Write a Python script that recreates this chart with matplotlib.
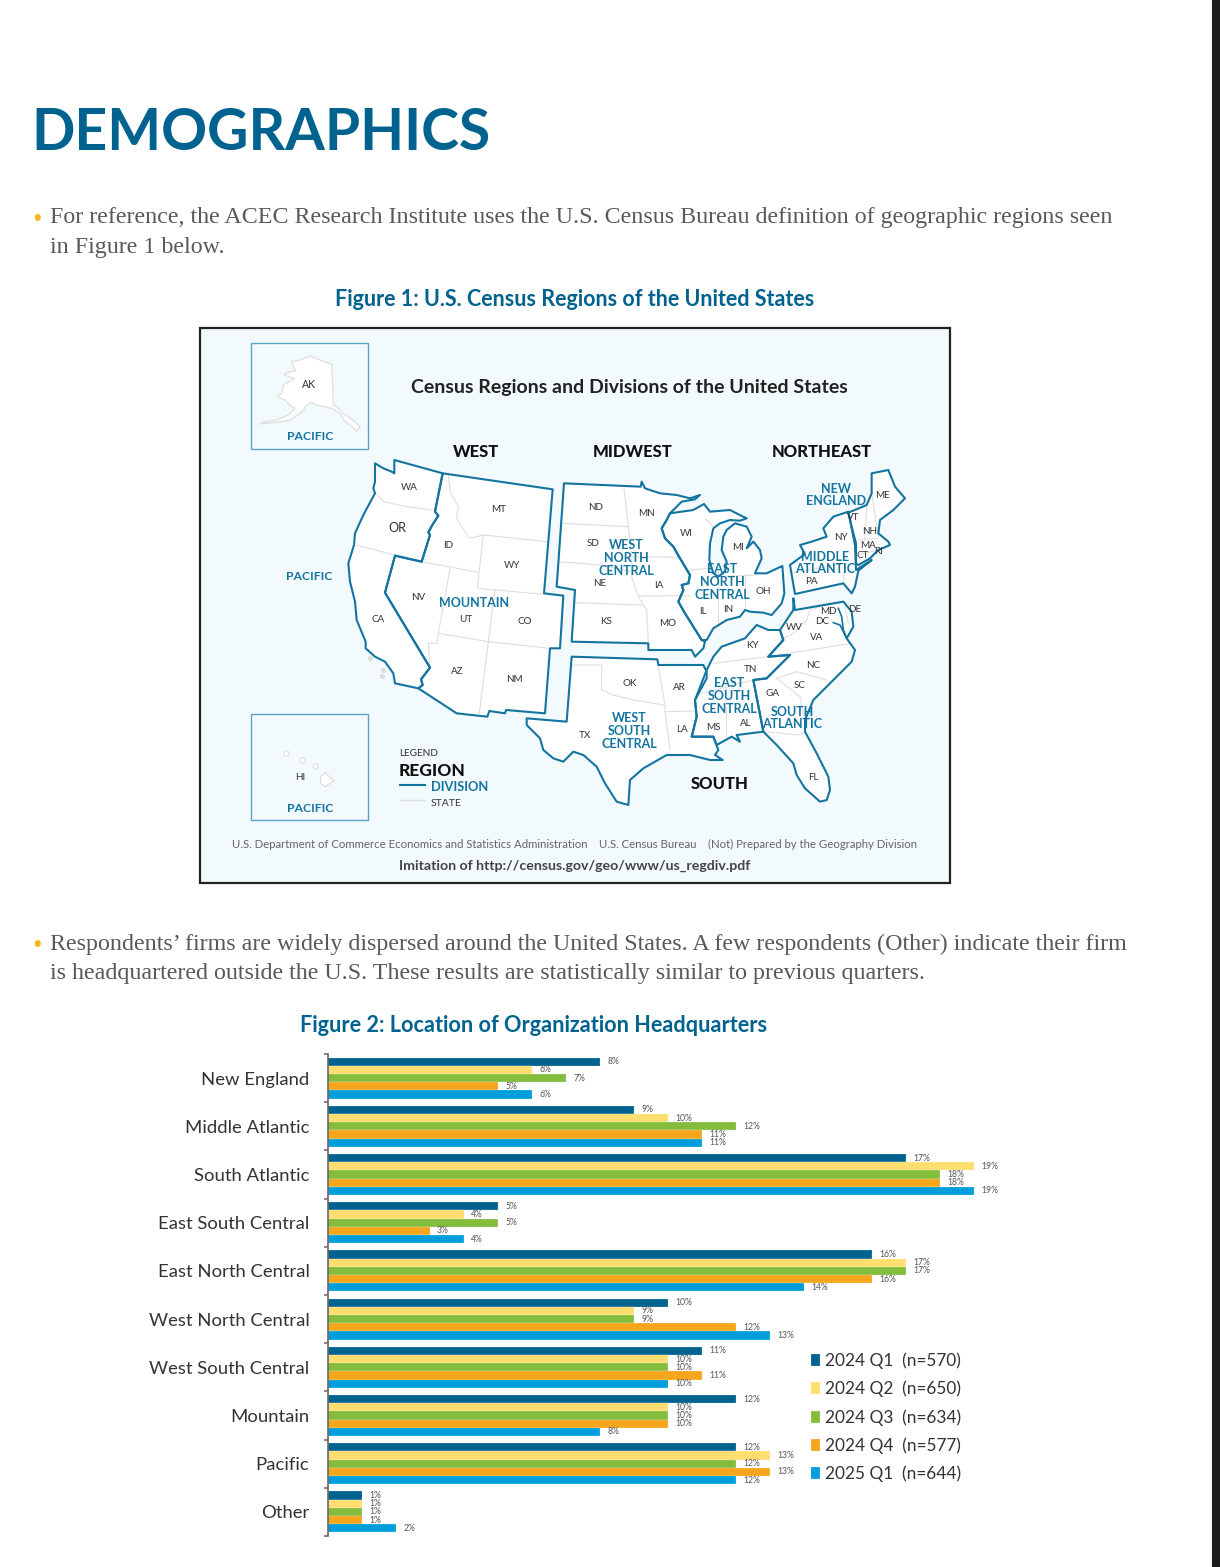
import matplotlib
matplotlib.use('Agg')
import matplotlib.pyplot as plt
from matplotlib.patches import Polygon, Rectangle
import numpy as np

# Chart data (Figure 2)
regions = ['New England', 'Middle Atlantic', 'South Atlantic', 'East South Central',
           'East North Central', 'West North Central', 'West South Central',
           'Mountain', 'Pacific', 'Other']
q1_2024 = [8, 9, 17, 5, 16, 10, 11, 12, 12, 1]
q2_2024 = [6, 10, 19, 4, 17, 9, 10, 10, 13, 1]
q3_2024 = [7, 12, 18, 5, 17, 9, 10, 10, 12, 1]
q4_2024 = [5, 11, 18, 3, 16, 12, 11, 10, 13, 1]
q1_2025 = [6, 11, 19, 4, 14, 13, 10, 8, 12, 2]
series_names = ['2024 Q1  (n=570)', '2024 Q2  (n=650)', '2024 Q3  (n=634)',
                '2024 Q4  (n=577)', '2025 Q1  (n=644)']
series_colors = ['#00628f', '#ffdd6e', '#84bd3c', '#f5a61c', '#009fdb']

BLUE = '#00628f'
DIV = '#1474a0'
STATE = '#dedede'

# Map outlines, traced in crop coordinates (3x zoom of the picture)
A = (200, 325)   # west part
B = (550, 430)   # east part

def crop(base, pts):
    return [(base[0] + x / 3, base[1] + y / 3) for x, y in pts]

pacific = crop(A, [(583,405),(728,445),(705,560),(715,572),(697,600),(685,622),(690,630),(665,710),
                   (585,692),(555,803),(690,1028),(663,1063),(668,1080),(655,1090),(585,1075),(580,1045),
                   (555,1010),(525,995),(497,970),(497,950),(470,885),(465,830),(450,770),(445,715),
                   (462,660),(465,625),(490,570),(525,505),(520,490),(525,470),(525,415),(550,430),
                   (575,440),(583,445)])
mountain = crop(A, [(585,692),(665,710),(690,630),(685,622),(697,600),(715,572),(705,560),(728,445),
                    (1058,493),(1032,805),(1090,812),(1080,970),(1050,970),(1035,1165),(918,1155),
                    (915,1165),(868,1158),(862,1175),(770,1165),(655,1090),(668,1080),(663,1063),
                    (690,1028),(555,803)])
west_north = crop(B, [(42,160),(272,170),(275,155),(285,175),(330,190),(380,195),(420,205),(450,195),
                      (435,208),(395,215),(360,250),(350,270),(335,295),(345,325),(370,350),(390,385),
                      (420,435),(415,460),(395,465),(400,480),(385,515),(405,550),(430,590),(455,630),
                      (465,635),(460,655),(435,680),(425,660),(295,660),(295,640),(65,635),(75,480),(20,470)])
east_north = crop(B, [(360,250),(395,245),(430,240),(462,222),(480,245),(540,240),(575,258),(590,265),
                      (570,272),(540,270),(510,280),(490,295),(480,340),(478,390),(490,430),(505,440),
                      (525,425),(530,395),(515,360),(520,320),(530,300),(555,280),(590,290),(605,320),
                      (590,355),(610,335),(630,360),(635,385),(615,430),(650,430),(697,408),(703,490),
                      (695,520),(665,555),(640,548),(600,545),(585,540),(570,560),(530,570),(490,595),
                      (470,630),(455,630),(430,590),(405,550),(385,515),(400,480),(395,465),(415,460),
                      (420,435),(390,385),(370,350),(345,325),(335,295),(350,270)])
middle_atl = crop(B, [(895,245),(915,345),(918,420),(965,390),(925,422),(915,470),(905,490),(880,460),
                      (735,492),(720,405),(765,372),(750,345),(785,335),(830,320),(820,295),(850,260)])
new_england = crop(B, [(895,248),(950,225),(965,190),(965,130),(1015,120),(1035,170),(1065,205),(1030,240),
                       (990,270),(985,310),(1015,335),(1020,345),(985,360),(960,385),(925,405),(918,400),
                       (918,340),(905,290)])
south_atl = crop(B, [(730,505),(735,540),(880,515),(905,545),(910,590),(890,625),(915,660),(905,695),
                     (880,720),(855,745),(830,770),(790,810),(765,870),(765,905),(800,970),(835,1040),
                     (840,1080),(830,1110),(810,1115),(765,1075),(740,1035),(730,1000),(680,945),(640,905),
                     (610,750),(650,745),(720,675),(655,680),(700,630),(690,600),(730,540)])
east_south = crop(B, [(610,750),(640,905),(560,915),(570,935),(545,920),(500,945),(490,920),(425,920),
                      (440,860),(435,810),(470,720),(490,680),(515,650),(585,625),(620,585),(655,600),
                      (690,600),(700,630),(655,680),(720,675),(650,745)])
west_south = crop(B, [(65,680),(322,688),(325,705),(460,705),(470,725),(470,745),(435,810),(440,860),
                      (425,920),(490,920),(505,960),(495,975),(518,990),(480,990),(420,975),(350,975),
                      (280,1015),(240,1050),(235,1125),(200,1115),(165,1060),(140,1010),(100,975),(70,965),
                      (40,995),(10,985),(-20,960),(-30,925),(-70,885),(-70,865),(50,875)])
divisions = [pacific, mountain, west_north, east_north, middle_atl, new_england, south_atl, east_south, west_south]
chesapeake = crop(B, [(865,535),(875,560),(880,600),(890,625),(870,585),(850,578)])

state_lines = [
    crop(A, [(530,505),(550,530),(620,545),(700,555)]),
    crop(A, [(470,660),(590,692)]),
    crop(A, [(745,450),(750,500),(775,545),(770,580),(795,620),(810,640),(850,630)]),
    crop(A, [(850,630),(1042,650)]),
    crop(A, [(850,630),(832,790),(1032,808)]),
    crop(A, [(665,710),(835,742)]),
    crop(A, [(750,730),(715,925),(710,955),(685,955),(690,1028)]),
    crop(A, [(715,925),(865,950),(1050,970)]),
    crop(A, [(885,795),(865,950),(838,1165)]),
    crop(B, [(35,280),(235,290)]),
    crop(B, [(222,175),(235,290),(245,380),(245,440),(265,500),(290,540),(295,640)]),
    crop(B, [(25,395),(150,405),(245,425)]),
    crop(B, [(245,380),(385,382)]),
    crop(B, [(75,518),(275,525)]),
    crop(B, [(265,498),(420,497)]),
    crop(B, [(420,420),(480,415)]),
    crop(B, [(465,265),(490,290)]),
    crop(B, [(505,425),(505,585)]),
    crop(B, [(585,435),(585,540)]),
    crop(B, [(510,440),(615,435)]),
    crop(B, [(65,705),(155,705),(155,780),(190,795),(250,810),(340,825)]),
    crop(B, [(325,705),(345,825),(345,845),(440,843)]),
    crop(B, [(345,845),(360,960)]),
    crop(B, [(490,700),(655,680)]),
    crop(B, [(455,790),(610,750)]),
    crop(B, [(528,775),(530,925)]),
    crop(B, [(640,905),(750,915),(765,905)]),
    crop(B, [(680,745),(750,800),(765,870)]),
    crop(B, [(680,745),(740,725),(830,750)]),
    crop(B, [(655,680),(905,640)]),
    crop(B, [(690,630),(730,610),(770,570),(780,540),(840,520)]),
    crop(B, [(885,530),(895,580)]),
    crop(B, [(730,428),(885,400),(880,460)]),
    crop(B, [(950,225),(945,330)]),
    crop(B, [(925,330),(985,325)]),
    crop(B, [(965,190),(985,320)]),
    crop(B, [(925,375),(985,360)]),
]
alaska = crop(A, [(275,110),(300,105),(330,93),(360,105),(395,118),(398,180),(400,240),(415,248),(425,262),
                  (445,275),(465,290),(480,305),(470,318),(450,300),(435,290),(420,265),(395,250),(350,240),
                  (335,232),(320,240),(310,255),(295,268),(270,285),(245,290),(215,293),(180,297),(195,290),
                  (230,285),(265,270),(285,250),(270,240),(255,225),(230,215),(245,205),(250,180),(268,170),
                  (285,160),(265,155),(252,148),(270,140),(288,138),(280,125)])
hawaii = crop((200, 620), [(362,470),(375,458),(402,482),(375,500),(362,490)])
hawaii_small = crop((200, 620), [(258,400),(305,420),(345,437)])
ca_islands = crop((200, 620), [(510,115),(550,150),(545,168)])

state_labels = [('AK',309,383,8.5),('WA',409,486,8),('OR',397,527,10),('MT',499,509,8),('ID',448,544,8),
                ('WY',512,564,8),('NV',418,597,8),('UT',466,619,8),('CO',525,620,8),('CA',378,618,8),
                ('AZ',457,670,8),('NM',514,678,8),('TX',585,735,8),('ND',596,506,8),('MN',646,512,8),
                ('SD',593,543,8),('NE',600,583,8),('IA',659,585,8),('KS',606,621,8),('MO',668,623,8),
                ('WI',686,533,8),('MI',738,546,8),('IL',703,610,8),('IN',728,608,8),('OH',763,591,8),
                ('KY',752,645,8),('TN',750,668,8),('OK',630,682,8),('AR',679,686,8),('LA',682,729,8),
                ('MS',713,726,8),('AL',746,722,8),('GA',773,693,8),('SC',800,685,8),('NC',813,664,8),
                ('FL',813,776,8),('VA',817,637,8),('WV',794,626,8),('DC',822,620,8),('MD',828,610,8),
                ('DE',855,609,8),('PA',811,580,8),('NY',841,537,8),('VT',853,517,8),('NH',870,530,8),
                ('MA',868,544,8),('CT',863,555,8),('RI',879,551,8),('ME',883,494,8),('HI',300,777,8)]
division_labels = [('PACIFIC',310,435,8.8),('PACIFIC',309,576,8.8),('PACIFIC',310,807,8.8),
                   ('MOUNTAIN',474,602,9),('WEST\nNORTH\nCENTRAL',626,557,9),('EAST\nNORTH\nCENTRAL',722,581,9),
                   ('MIDDLE\nATLANTIC',825,562,9),('NEW\nENGLAND',836,494,9),('EAST\nSOUTH\nCENTRAL',729,695,9),
                   ('SOUTH\nATLANTIC',792,717,9),('WEST\nSOUTH\nCENTRAL',629,730,9)]
region_labels = [('WEST',476,451),('MIDWEST',633,451),('NORTHEAST',822,451),('SOUTH',720,783)]

plt.rcParams['font.family'] = ['Lato', 'DejaVu Sans']
fig = plt.figure(figsize=(12.2, 15.67), dpi=100, facecolor='white')

# Whole-page axes in picture pixels
page = fig.add_axes([0, 0, 1, 1])
page.set_xlim(0, 1220)
page.set_ylim(1567, 0)
page.axis('off')

page.add_patch(Rectangle((1210, 0), 2, 1567, fc='#f2f2f2', ec='none'))
page.add_patch(Rectangle((1212, 0), 8, 1567, fc='#1a1a1a', ec='none'))
page.text(31, 134, 'DEMOGRAPHICS', fontsize=41, fontweight='bold', color=BLUE, va='center', ha='left')

body = dict(family=['Liberation Serif'], fontsize=17.3, color='#58595b', va='center', ha='left')
page.text(32, 218, '•', color='#f5b81c', fontsize=12, va='center')
page.text(50, 218, 'For reference, the ACEC Research Institute uses the U.S. Census Bureau definition of geographic regions seen', **body)
page.text(50, 248, 'in Figure 1 below.', **body)
page.text(32, 944, '•', color='#f5b81c', fontsize=12, va='center')
page.text(50, 944, 'Respondents’ firms are widely dispersed around the United States. A few respondents (Other) indicate their firm', **body)
page.text(50, 973, 'is headquartered outside the U.S. These results are statistically similar to previous quarters.', **body)

page.text(575, 300, 'Figure 1: U.S. Census Regions of the United States', fontsize=15.5, fontweight='bold',
          color=BLUE, ha='center', va='center')
page.text(534, 1026, 'Figure 2: Location of Organization Headquarters', fontsize=15.6, fontweight='bold',
          color=BLUE, ha='center', va='center')

# Figure 1 map
page.add_patch(Rectangle((200, 328), 750, 555, fc='#f2fafd', ec='#222222', lw=1.6))
for x0, y0, h in [(251, 343, 106), (251, 714, 106)]:
    page.add_patch(Rectangle((x0, y0), 117, h, fc='#f2fafd', ec='#5fa3c4', lw=1))

for outline in divisions:
    page.add_patch(Polygon(outline, closed=True, fc='white', ec='none', zorder=2))
for line in state_lines:
    xs, ys = zip(*line)
    page.plot(xs, ys, color=STATE, lw=0.8, zorder=3)
for outline in divisions:
    page.add_patch(Polygon(outline, closed=True, fc='none', ec=DIV, lw=1.5, joinstyle='round', zorder=4))
xs, ys = zip(*chesapeake)
page.plot(xs, ys, color=DIV, lw=1.2, zorder=4)

page.add_patch(Polygon(alaska, closed=True, fc='white', ec=STATE, lw=0.9, zorder=2))
page.add_patch(Polygon(hawaii, closed=True, fc='white', ec=STATE, lw=0.9, zorder=2))
xs, ys = zip(*hawaii_small)
page.scatter(xs, ys, s=14, facecolor='white', edgecolor=STATE, linewidth=0.8, zorder=2)
xs, ys = zip(*ca_islands)
page.scatter(xs, ys, s=8, color=STATE, zorder=2)

page.text(629, 388, 'Census Regions and Divisions of the United States', fontsize=14, fontweight='bold',
          color='#222222', ha='center', va='center')
for name, x, y in region_labels:
    page.text(x, y + 1, name, fontsize=12, fontweight='black', color='#111111', ha='center', va='center', zorder=6)
for name, x, y, size in state_labels:
    page.text(x, y + 1, name, fontsize=size - 0.9, color='#333333', ha='center', va='center', zorder=6)
for name, x, y, size in division_labels:
    page.text(x, y + 1, name, fontsize=size, fontweight='bold', color=DIV, ha='center', va='center',
              linespacing=1.08, zorder=6)

page.text(399, 753, 'LEGEND', fontsize=7.2, color='#333333', va='center')
page.text(399, 771, 'REGION', fontsize=12.5, fontweight='black', color='#111111', va='center')
page.plot([400, 425], [785, 785], color=DIV, lw=1.5)
page.text(431, 787, 'DIVISION', fontsize=9.3, color=DIV, va='center', fontweight='bold')
page.plot([400, 425], [800, 800], color=STATE, lw=1)
page.text(431, 803, 'STATE', fontsize=7.5, color='#333333', va='center')
page.text(575, 844, 'U.S. Department of Commerce Economics and Statistics Administration    U.S. Census Bureau    (Not) Prepared by the Geography Division',
          fontsize=8.2, color='#666666', ha='center', va='center')
page.text(575, 866, 'Imitation of http://census.gov/geo/www/us_regdiv.pdf', fontsize=10.2, fontweight='bold',
          color='#444444', ha='center', va='center')

# Figure 2 bars, 34 px per percent, axis from y=1054 to y=1536
ax = fig.add_axes([327.5 / 1220, 1 - 1536 / 1567, 700 / 1220, 482 / 1567])
ax.set_facecolor('none')
ax.set_xlim(0, 700 / 34)
ax.set_ylim(len(regions), 0)
series = [q1_2024, q2_2024, q3_2024, q4_2024, q1_2025]
bar_h = 0.17
for i, (vals, color, name) in enumerate(zip(series, series_colors, series_names)):
    y = np.arange(len(regions)) + 0.5 + (i - 2) * bar_h
    ax.barh(y, vals, height=bar_h, color=color, edgecolor='white', linewidth=0.15, label=name)
    for yy, v in zip(y, vals):
        ax.annotate(f'{v}%', (v, yy), xytext=(5.5, 0), textcoords='offset points', fontsize=6.2,
                    color='#555555', ha='left', va='center')

ax.set_yticks(np.arange(len(regions) + 1))
ax.set_yticklabels([])
ax.set_yticks(np.arange(len(regions)) + 0.5, minor=True)
ax.set_yticklabels(regions, minor=True, fontsize=13.3, color='#333333')
ax.tick_params(axis='y', which='minor', length=0, pad=13)
ax.tick_params(axis='y', which='major', length=3, width=1.1, color='#666666')
ax.xaxis.set_visible(False)
for side in ['top', 'right', 'bottom']:
    ax.spines[side].set_visible(False)
ax.spines['left'].set_color('#666666')
ax.spines['left'].set_linewidth(1.2)

ax.legend(loc='upper left', bbox_to_anchor=((811 - 327.5) / 700, 1 - (1352.5 - 1054) / 482), frameon=False,
          fontsize=12.4, labelcolor='#333333', handlelength=0.55, handleheight=0.7, handletextpad=0.25,
          labelspacing=0.68, borderpad=0, borderaxespad=0)

fig.savefig('out.png', dpi=100)
